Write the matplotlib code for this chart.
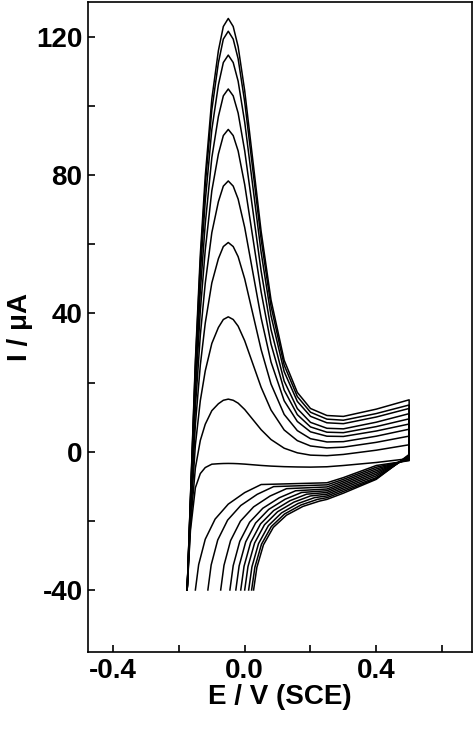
import numpy as np
import matplotlib.pyplot as plt

plt.rcParams['font.family'] = ['Liberation Sans', 'DejaVu Sans']
plt.rcParams['font.weight'] = 'bold'

# anodic sweep potentials (V) and normalised peak shape
x_an = [-0.175, -0.165, -0.15, -0.135, -0.12, -0.1, -0.08, -0.065, -0.05, -0.035,
        -0.02, 0.0, 0.02, 0.05, 0.08, 0.12, 0.16, 0.2, 0.25, 0.3, 0.4, 0.5]
peak_shape = [0.0, 0.06, 0.25, 0.45, 0.62, 0.8, 0.92, 0.98, 1.0, 0.98,
              0.93, 0.82, 0.68, 0.47, 0.3, 0.15, 0.07, 0.03, 0.01, 0.0, 0.0, 0.0]
foot_an = [-40, -22, -8, -3, -1, 0, 0, 0, 0, 0,
           0, 0, 0, 0, 0, 0, 0, 0, 0, 0, 0, 0]
plat_w = [0, 0.2, 0.6, 0.85, 0.95, 1, 1, 1, 1, 1,
          1, 1, 1, 1, 1, 1, 1, 1, 1, 1, 1, 1]
ramp = [0, 0, 0, 0, 0, 0, 0, 0, 0, 0,
        0, 0, 0, 0, 0, 0, 0, 0, 0.05, 0.2, 0.55, 1.0]

# per cycle values (uA)
peaks = [-3.4, 15.2, 39.0, 60.5, 78.3, 93.2, 104.9, 114.7, 121.6, 125.3]
plateau = [-4.5, -1.5, 0.5, 2.0, 3.5, 4.5, 5.5, 7.0, 8.0, 9.0]
end_an = [-2.0, 2.0, 4.5, 6.5, 8.0, 9.5, 11.0, 12.5, 13.5, 15.0]

# cathodic sweep: foot potential where the curve reaches -40 uA
foot_x = [-0.15, -0.112, -0.073, -0.045, -0.027, -0.012, 0.0, 0.012, 0.021, 0.027]
cat_50 = [-2.6, -2.4, -2.2, -2.0, -1.8, -1.6, -1.4, -1.2, -1.0, -0.8]
cat_40 = [-4.0, -4.5, -5.0, -5.5, -6.0, -6.5, -7.0, -7.5, -7.8, -8.0]
cat_30 = [-7.5, -8.0, -8.5, -9.0, -9.5, -10.0, -10.5, -11.0, -11.5, -12.0]
cat_25 = [-9.0, -9.6, -10.2, -10.8, -11.3, -11.8, -12.3, -12.8, -13.3, -13.8]
# offsets from the foot and currents near the foot
cat_off = [0.2, 0.15, 0.1, 0.06, 0.03, 0.01, 0.0]
cat_near = [-11.5, -13.5, -16.5, -20.5, -26, -33, -40]

fig, ax = plt.subplots(figsize=(4.74, 7.32), dpi=100)
fig.subplots_adjust(left=0.186, right=0.995, top=0.997, bottom=0.109)

xa = np.array(x_an)
for k in range(len(peaks)):
    ia = (np.array(foot_an) + plateau[k] * np.array(plat_w)
          + (peaks[k] - plateau[k]) * np.array(peak_shape)
          + (end_an[k] - plateau[k]) * np.array(ramp))
    xc = [0.5, 0.4, 0.3, 0.25] + list(foot_x[k] + np.array(cat_off))
    shift = cat_25[k] + 11.0
    ic = ([cat_50[k], cat_40[k], cat_30[k], cat_25[k]]
          + [v + shift * (1 - j / 6) for j, v in enumerate(cat_near)])
    ax.plot(list(xa) + xc, list(ia) + ic, color='k', lw=1.1)

ax.set_xlim(-0.476, 0.69)
ax.set_ylim(-58, 130)
ax.set_xticks([-0.4, -0.2, 0.0, 0.2, 0.4, 0.6])
ax.set_xticklabels(['-0.4', '', '0.0', '', '0.4', ''])
ax.set_yticks([-40, -20, 0, 20, 40, 60, 80, 100, 120])
ax.set_yticklabels(['-40', '', '0', '', '40', '', '80', '', '120'])
ax.tick_params(direction='in', length=5, width=1.2, labelsize=20, pad=4)
for s in ax.spines.values():
    s.set_linewidth(1.2)
ax.set_xlabel('E / V (SCE)', fontsize=20, fontweight='bold', labelpad=0)
ax.set_ylabel('I / \u03bcA', fontsize=20, fontweight='bold', labelpad=2)
plt.savefig('out.png', dpi=100)
